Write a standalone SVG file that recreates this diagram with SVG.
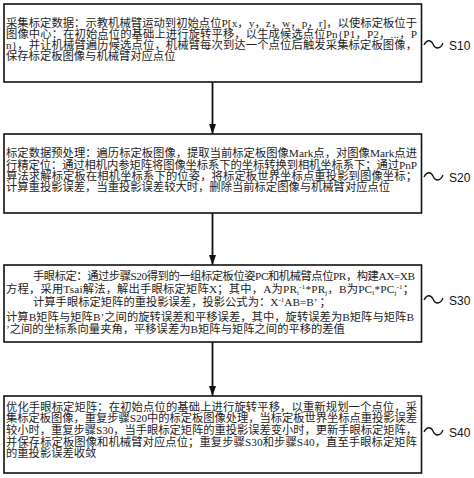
<svg xmlns="http://www.w3.org/2000/svg" width="474" height="478" viewBox="0 0 474 478">
<style>
.box{fill:#fff;stroke:#111;stroke-width:1.6}
.t{font-family:"Liberation Serif","Noto Sans CJK SC",serif;font-size:11.3px;fill:#222}
.lbl{font-family:"Liberation Sans",Arial,sans-serif;font-size:12px;fill:#111}
.wave{fill:none;stroke:#111;stroke-width:1.3}
.conn{stroke:#111;stroke-width:1.8;fill:none;marker-end:url(#ah)}
.sub{font-size:7px}
</style>
<defs>
<marker id="ah" markerWidth="10.5" markerHeight="7.4" refX="10.5" refY="3.7" orient="auto" markerUnits="userSpaceOnUse" viewBox="0 0 10.5 7.4">
<path d="M0,0 L10.5,3.7 L0,7.4 Z" fill="#111"/>
</marker>
</defs>
<rect width="474" height="478" fill="#fff"/>
<g id="connectors">
<line class="conn" x1="212.5" y1="82" x2="212.5" y2="134"/>
<line class="conn" x1="212.5" y1="213" x2="212.5" y2="265"/>
<line class="conn" x1="212.5" y1="342" x2="212.5" y2="396"/>
</g>
<g id="S10">
<rect class="box" x="4" y="4" width="417.5" height="78"/>
<text class="t" x="6" y="26.7" textLength="411" lengthAdjust="spacing">采集标定数据：示教机械臂运动到初始点位P[x，y，z，w，p，r]，以使标定板位于</text>
<text class="t" x="6" y="37.9" textLength="411" lengthAdjust="spacing">图像中心：在初始点位的基础上进行旋转平移，以生成候选点位Pn{P1，P2，...，P</text>
<text class="t" x="6" y="49.1" textLength="411" lengthAdjust="spacing">n}，并让机械臂遍历候选点位，机械臂每次到达一个点位后触发采集标定板图像，</text>
<text class="t" x="6" y="60.3">保存标定板图像与机械臂对应点位</text>
<path class="wave" d="M424,45 C427,39 431,40 433,44 C435,49 440,50 443,43"/>
<text class="lbl" x="449" y="49.5">S10</text>
</g>
<g id="S20">
<rect class="box" x="4" y="134" width="417.5" height="79"/>
<text class="t" x="6" y="157.3" textLength="411" lengthAdjust="spacing">标定数据预处理：遍历标定板图像，提取当前标定板图像Mark点，对图像Mark点进</text>
<text class="t" x="6" y="168.6" textLength="411" lengthAdjust="spacing">行精定位：通过相机内参矩阵将图像坐标系下的坐标转换到相机坐标系下；通过PnP</text>
<text class="t" x="6" y="179.9" textLength="411" lengthAdjust="spacing">算法求解标定板在相机坐标系下的位姿，将标定板世界坐标点重投影到图像坐标；</text>
<text class="t" x="6" y="191.2">计算重投影误差，当重投影误差较大时，删除当前标定图像与机械臂对应点位</text>
<path class="wave" d="M424,177 C427,171 431,172 433,176 C435,181 440,182 443,175"/>
<text class="lbl" x="449" y="181.5">S20</text>
</g>
<g id="S30">
<rect class="box" x="4" y="265" width="417.5" height="77"/>
<text class="t" x="33" y="280" textLength="382" lengthAdjust="spacing">手眼标定：通过步骤S20得到的一组标定板位姿PC和机械臂点位PR，构建AX=XB</text>
<text class="t" x="6" y="293" textLength="408" lengthAdjust="spacing">方程，采用Tsai解法，解出手眼标定矩阵X；其中，A为PR<tspan class="sub" baseline-shift="-2">i</tspan><tspan class="sub" baseline-shift="4">-1</tspan>*PR<tspan class="sub" baseline-shift="-2">j</tspan>，B为PC<tspan class="sub" baseline-shift="-2">i</tspan>*PC<tspan class="sub" baseline-shift="-2">j</tspan><tspan class="sub" baseline-shift="4">-1</tspan>；</text>
<text class="t" x="33" y="306">计算手眼标定矩阵的重投影误差，投影公式为：X<tspan class="sub" baseline-shift="4">-1</tspan>AB=B’ ；</text>
<text class="t" x="6" y="320.5" textLength="408" lengthAdjust="spacing">计算B矩阵与矩阵B’之间的旋转误差和平移误差，其中，旋转误差为B矩阵与矩阵B</text>
<text class="t" x="6" y="333">’之间的坐标系向量夹角，平移误差为B矩阵与矩阵之间的平移的差值</text>
<path class="wave" d="M424,300 C427,294 431,295 433,299 C435,304 440,305 443,298"/>
<text class="lbl" x="449" y="304.5">S30</text>
</g>
<g id="S40">
<rect class="box" x="4" y="396" width="417.5" height="77"/>
<text class="t" x="6" y="410.7" textLength="411" lengthAdjust="spacing">优化手眼标定矩阵：在初始点位的基础上进行旋转平移，以重新规划一个点位，采</text>
<text class="t" x="6" y="422.2" textLength="411" lengthAdjust="spacing">集标定板图像，重复步骤S20中的标定板图像处理，当标定板世界坐标点重投影误差</text>
<text class="t" x="6" y="433.9" textLength="411" lengthAdjust="spacing">较小时，重复步骤S30，当手眼标定矩阵的重投影误差变小时，更新手眼标定矩阵，</text>
<text class="t" x="6" y="445.6" textLength="411" lengthAdjust="spacing">并保存标定板图像和机械臂对应点位；重复步骤S30和步骤S40，直至手眼标定矩阵</text>
<text class="t" x="6" y="457.3">的重投影误差收敛</text>
<path class="wave" d="M424,432 C427,426 431,427 433,431 C435,436 440,437 443,430"/>
<text class="lbl" x="449" y="436.5">S40</text>
</g>
</svg>
